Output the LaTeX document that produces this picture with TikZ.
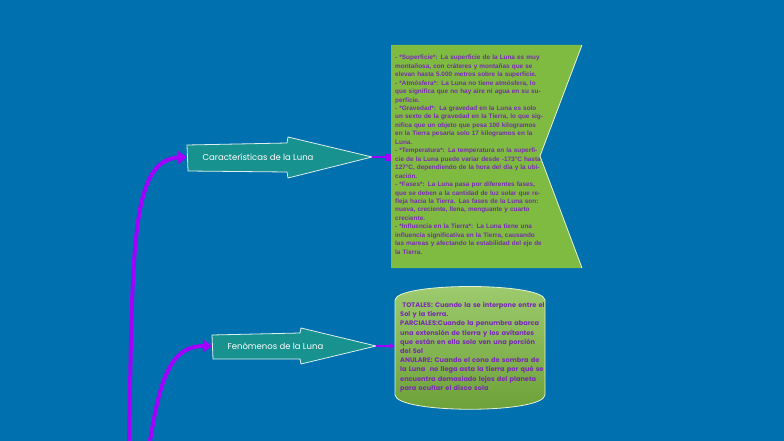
\documentclass[tikz,border=0pt]{standalone}
\usepackage{fontspec}
\setmainfont{Liberation Sans}
\newfontfamily\pop{Poppins}
\usetikzlibrary{arrows.meta}
\definecolor{bg}{HTML}{0071AE}
\definecolor{teal}{HTML}{17928F}
\definecolor{grn}{HTML}{7EBB40}
\definecolor{txt}{HTML}{7A2CB2}
\definecolor{arr}{HTML}{A100FF}
\tikzset{
  topic/.style={fill=teal,draw=white!85!teal,line width=0.8pt},
  lbl/.style={text=white,font=\pop\fontsize{8.5}{10}\selectfont},
  curve/.style={draw=arr,line width=4pt,-{Triangle[length=9pt,width=13pt]}},
  conn/.style={draw=arr,line width=1.5pt},
  info/.style={text=txt,align=left,inner sep=0pt}
}
\begin{document}
\begin{tikzpicture}[x=1pt,y=-1pt]
\fill[bg] (0,0) rectangle (784,441);
\useasboundingbox (0,0) rectangle (784,441);
% topic 1
\draw[topic] (187,145) -- (287,143) -- (288,137) -- (372,157) -- (288,178) -- (287,172) -- (188,171) -- cycle;
\node[lbl,anchor=west] (c1) at (199,157) {Características de la Luna};
\coordinate (t1) at (372,157);
\coordinate (e1) at (187,157);
% topic 2
\draw[topic] (212,335) -- (300,333) -- (301,328) -- (376,346) -- (301,364) -- (300,359) -- (213,359) -- cycle;
\node[lbl,anchor=west] (c2) at (224,346) {Fenómenos de la Luna};
\coordinate (t2) at (376,346);
\coordinate (e2) at (212,346);
% info box 1
\fill[grn] (391,45) -- (582,45) -- (540,156) -- (582,268) -- (391,268) -- cycle;
\draw[white!80!grn,line width=0.8pt] (582,45) -- (540,156) -- (582,268);
\coordinate (b1) at (391,157);
\node[info,anchor=north west,text width=148pt,font=\bfseries\fontsize{6.4}{8.45}\selectfont] (i1) at (395,55) {%
- *Superficie*: La superficie de la Luna es muy montañosa, con cráteres y montañas que se elevan hasta 5.000 metros sobre la superficie.\\
- *Atmósfera*: La Luna no tiene atmósfera, lo que significa que no hay aire ni agua en su superficie.\\
- *Gravedad*: La gravedad en la Luna es solo un sexto de la gravedad en la Tierra, lo que significa que un objeto que pesa 100 kilogramos en la Tierra pesaría solo 17 kilogramos en la Luna.\\
- *Temperatura*: La temperatura en la superficie de la Luna puede variar desde -173°C hasta 127°C, dependiendo de la hora del día y la ubicación.\\
- *Fases*: La Luna pasa por diferentes fases, que se deben a la cantidad de luz solar que refleja hacia la Tierra. Las fases de la Luna son: nueva, creciente, llena, menguante y cuarto creciente.\\
- *Influencia en la Tierra*: La Luna tiene una influencia significativa en la Tierra, causando las mareas y afectando la estabilidad del eje de la Tierra.};
% info box 2
\shade[top color=grn!75!white,bottom color=grn!85!black,draw=white!80!grn,line width=0.8pt]
 (395,300) .. controls (397,282) and (543,282) .. (545,300) -- (545,395)
 .. controls (543,414) and (397,414) .. (395,395) -- cycle;
\coordinate (b2) at (395,346);
\node[info,anchor=north west,text width=145pt,font=\pop\bfseries\fontsize{6.6}{9.2}\selectfont] (i2) at (400,302) {%
\ TOTALES: Cuando la se interpone entre el Sol y la tierra.\\
PARCIALES:Cuando la penumbra abarca una extensión de tierra y los avitantes que están en ella solo ven una porción del Sol\\
ANULARE: Cuando el cono de sombra de la Luna\ \ no llega asta la tierra por qué se encuentra demasiado lejos del planeta para ocultar el disco sola};
% connectors
\draw[conn] (t1) -- (b1);
\fill[arr] (b1) ++(-6,-3.5) rectangle ++(6,7);
\draw[conn,-{Triangle[length=5pt,width=5pt]}] (t2) -- (b2);
\coordinate (s1) at (129,441);
\coordinate (s2) at (150,441);
\draw[curve] (s1) .. controls (133,250) and (130,160) .. (e1);
\draw[curve] (s2) .. controls (160,380) and (170,346) .. (e2);
\end{tikzpicture}
\end{document}
